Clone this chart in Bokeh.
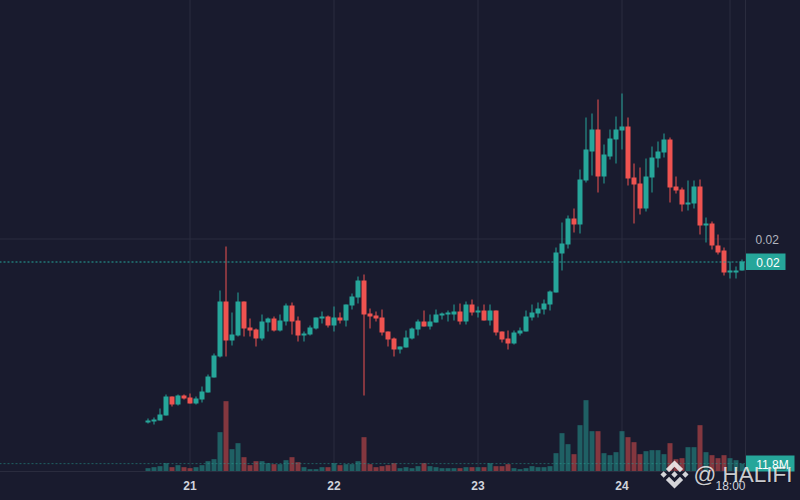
from bokeh.plotting import figure
from bokeh.embed import file_html
from bokeh.resources import INLINE
from bokeh.models import Range1d, LinearAxis, FixedTicker, Label, PolyAnnotation

# candles: price levels in chart units, where the 0.02 grid level is PRICE_TICK
body_upper = [579, 580, 585, 603, 603, 604, 604, 602, 601, 608, 623, 644, 698, 698, 665, 698, 698, 672, 670, 678,
              681, 681, 679, 694, 694, 679, 666, 672, 682, 683, 683, 682, 682, 695, 703, 719, 719, 686, 684, 682,
              668, 661, 653, 662, 671, 678, 678, 678, 685, 686, 687, 688, 688, 695, 695, 689, 689, 689, 689, 668,
              661, 667, 669, 683, 687, 691, 696, 708, 747, 756, 781, 781, 820, 850, 870, 870, 845, 861, 870, 873,
              873, 822, 816, 823, 842, 848, 860, 860, 813, 810, 797, 813, 813, 776, 776, 754, 749, 729, 729, 738]
body_lower = [577, 578, 579, 584, 595, 595, 601, 596, 596, 600, 607, 622, 643, 659, 659, 664, 671, 669, 661, 661,
              677, 669, 669, 678, 678, 664, 664, 665, 671, 681, 674, 674, 679, 679, 694, 702, 685, 683, 681, 667,
              660, 650, 650, 652, 661, 670, 673, 673, 677, 684, 685, 685, 678, 678, 687, 687, 679, 679, 667, 660,
              656, 656, 666, 668, 682, 686, 690, 695, 707, 746, 755, 775, 775, 819, 848, 823, 823, 843, 860, 869,
              821, 815, 791, 791, 822, 841, 847, 812, 809, 795, 795, 796, 774, 774, 754, 747, 727, 727, 727, 729]
highs = [581, 582, 591, 605, 603, 605, 605, 606, 603, 613, 625, 646, 709, 753, 687, 707, 698, 681, 671, 685,
         682, 683, 685, 696, 697, 683, 668, 674, 682, 688, 684, 693, 687, 695, 706, 723, 725, 691, 688, 690,
         668, 662, 653, 669, 672, 680, 689, 685, 690, 687, 689, 695, 696, 698, 700, 693, 695, 695, 689, 668,
         669, 669, 672, 689, 695, 697, 700, 709, 752, 777, 784, 791, 830, 882, 886, 900, 855, 870, 883, 906,
         882, 836, 832, 841, 853, 858, 866, 862, 823, 812, 819, 819, 820, 782, 778, 765, 752, 738, 733, 740]
lows = [576, 575, 579, 584, 593, 594, 600, 596, 595, 597, 607, 622, 642, 643, 654, 663, 663, 663, 653, 659,
        668, 668, 668, 674, 665, 658, 658, 664, 670, 676, 672, 668, 676, 673, 690, 696, 604, 671, 678, 664,
        653, 643, 646, 652, 660, 664, 673, 670, 677, 680, 678, 679, 675, 675, 684, 682, 679, 674, 664, 657,
        650, 655, 664, 668, 679, 682, 685, 689, 707, 729, 751, 767, 766, 817, 824, 807, 816, 840, 836, 850,
        814, 776, 785, 788, 807, 832, 842, 797, 806, 788, 789, 791, 765, 757, 750, 745, 724, 721, 721, 729]
is_up = [1, 1, 1, 1, 0, 1, 0, 0, 1, 1, 1, 1, 1, 0, 1, 1, 0, 0, 0, 1,
         1, 0, 1, 1, 0, 0, 1, 1, 1, 1, 0, 1, 0, 1, 1, 1, 0, 0, 0, 0,
         0, 0, 1, 1, 1, 1, 0, 1, 1, 1, 1, 1, 0, 1, 0, 1, 0, 1, 0, 0,
         0, 1, 1, 1, 1, 1, 1, 1, 1, 1, 1, 0, 1, 1, 1, 0, 1, 1, 1, 1,
         0, 0, 0, 1, 1, 1, 1, 0, 0, 0, 1, 1, 0, 1, 0, 0, 0, 1, 1, 1]
volume_m = [5, 6.5, 8, 12.5, 6.5, 9.5, 6.5, 5, 6.5, 9.5, 15.5, 18.5, 59, 105.5, 33.5, 42.5, 21.5, 9.5, 15.5, 15.5,
            12.5, 11, 11, 17, 21.5, 14, 6.5, 3.5, 3.5, 6.5, 6.5, 12.5, 9.5, 11, 11, 15.5, 51.5, 11, 6.5, 8,
            9.5, 12.5, 5, 6.5, 5, 8, 12.5, 8, 6.5, 5, 5, 5, 5, 6.5, 6.5, 6.5, 6.5, 12.5, 8, 8,
            11, 5, 3.5, 5, 8, 6.5, 6.5, 8, 27.5, 57.5, 41, 26, 69.5, 107, 60.5, 60.5, 27.5, 24.5, 29, 60.5,
            51.5, 44, 26, 30.5, 32, 32, 26, 42.5, 18.5, 20, 36.5, 36.5, 69.5, 29, 24.5, 20, 24.5, 20, 17, 11.8]
day_ticks = [7, 31, 55, 79]
day_labels = ["21", "22", "23", "24"]
time_tick = 97
time_label = "18:00"
PRICE_TICK = 760.5
price_label = "0.02"
last_price = 737.5
last_volume_m = 11.8
volume_tag = "11.8M"
watermark = "@ HALIFI"

BG = "#191b2e"
GRID = "#2a2c3e"
UP = "#26a69a"
DOWN = "#ef5350"
TICK = "#d1d4dc"

idx = list(range(len(body_upper)))
colors = [UP if u else DOWN for u in is_up]

px_x = lambda px: (px - 148.5) / 6      # window pixel -> candle index
px_q = lambda px: 1000 - px             # window pixel -> price level
px_v = lambda px: (472 - px) * 1.5      # window pixel -> volume (M)

p = figure(width=802, height=502, output_backend="svg", toolbar_location=None,
           x_range=Range1d(px_x(0), px_x(802)), y_range=Range1d(px_q(502), px_q(0)),
           background_fill_color=BG, border_fill_color=BG, outline_line_color=None,
           x_axis_location=None, y_axis_location=None,
           min_border_left=0, min_border_top=0, min_border_right=0, min_border_bottom=0,
           margin=(-1, 0, 0, -1))
p.grid.visible = False
p.extra_y_ranges["vol"] = Range1d(px_v(502), px_v(0))

ax = LinearAxis(fixed_location=px_q(472), bounds=(px_x(0), px_x(746)),
                ticker=FixedTicker(ticks=day_ticks + [time_tick]),
                major_label_overrides={**dict(zip(day_ticks, day_labels)), time_tick: " "},
                major_label_text_color=TICK, major_label_text_font="Liberation Sans",
                major_label_text_font_size="12px", major_label_text_font_style="bold",
                major_label_standoff=7, major_tick_in=0, major_tick_out=0, minor_tick_in=0, minor_tick_out=0,
                major_tick_line_color=None, minor_tick_line_color=None, axis_line_color=GRID)
p.add_layout(ax, "below")
ay = LinearAxis(fixed_location=px_x(746), bounds=(px_q(472), px_q(0)),
                ticker=FixedTicker(ticks=[PRICE_TICK]), major_label_overrides={PRICE_TICK: price_label},
                major_label_text_color="#b2b5be", major_label_text_font="Liberation Sans",
                major_label_text_font_size="12px", major_label_standoff=10,
                major_tick_in=0, major_tick_out=0, minor_tick_in=0, minor_tick_out=0,
                major_tick_line_color=None, minor_tick_line_color=None, axis_line_color=GRID)
p.add_layout(ay, "right")

# grid lines stop at the price and time scales
grid_x = day_ticks + [time_tick]
p.segment(x0=grid_x, x1=grid_x, y0=px_q(472), y1=px_q(0), line_color=GRID, line_width=1)
p.segment(x0=[px_x(0)], x1=[px_x(746)], y0=PRICE_TICK, y1=PRICE_TICK, line_color=GRID, line_width=1)

# volume
p.vbar(x=idx, bottom=0, top=volume_m, width=5 / 6, fill_color=colors, fill_alpha=0.5,
       line_color=None, y_range_name="vol")
p.segment(x0=[px_x(0)], x1=[px_x(746)], y0=last_volume_m, y1=last_volume_m, y_range_name="vol",
          line_color=UP, line_alpha=0.5, line_width=1, line_dash="2 2")

# candles
p.segment(x0=idx, x1=idx, y0=lows, y1=highs, line_color=colors, line_width=1)
p.vbar(x=idx, bottom=body_lower, top=body_upper, width=5 / 6, fill_color=colors, line_color=None)
p.segment(x0=[px_x(0)], x1=[px_x(746)], y0=last_price, y1=last_price, line_color=UP, line_width=1, line_dash="2 2")

# tags on the scale
p.quad(left=[px_x(746)], right=[px_x(786)], top=[px_q(254)], bottom=[px_q(270.5)], fill_color=UP, line_color=None)
p.quad(left=[px_x(746)], right=[px_x(795)], top=[px_q(456)], bottom=[px_q(472)], fill_color=UP, line_color=None)

def screen_label(x, y, text, **kw):
    opts = dict(x_units="screen", y_units="screen", text_font="Liberation Sans", text_font_size="12px",
                text_align="center", text_baseline="middle", level="overlay")
    opts.update(kw)
    p.add_layout(Label(x=x + 1, y=502 - (y + 1), text=text, **opts))

screen_label(767.5, 262.3, price_label, text_color="#ffffff")
screen_label(772, 464.3, volume_tag, text_color="#ffffff")
screen_label(730, 485.5, time_label, text_color=TICK)

# watermark
LOGO_X, LOGO_Y, LOGO_R = 675, 475, 14
top_chev = [(-.388, -.16), (0, -.548), (.389, -.159), (.615, -.385), (0, -1), (-.614, -.385)]
bottom_chev = [(x, -y) for x, y in top_chev]
def diamond(cx, r=.228):
    return [(cx - r, 0), (cx, r), (cx + r, 0), (cx, -r)]
for shape in [top_chev, bottom_chev, diamond(0), diamond(-.774), diamond(.774)]:
    p.add_layout(PolyAnnotation(xs=[LOGO_X + LOGO_R * a for a, _ in shape],
                                ys=[502 - (LOGO_Y + LOGO_R * b) for _, b in shape],
                                xs_units="screen", ys_units="screen", fill_color="#ffffff", fill_alpha=0.82,
                                line_color=None, level="overlay"))
screen_label(693.7, 474.7, watermark, text_align="left", text_font_size="22.5px", text_color="#000000", text_alpha=0.35)
screen_label(693, 474, watermark, text_align="left", text_font_size="22.5px", text_color="#ffffff", text_alpha=0.8)

open("out.html", "w").write(file_html(p, INLINE))
